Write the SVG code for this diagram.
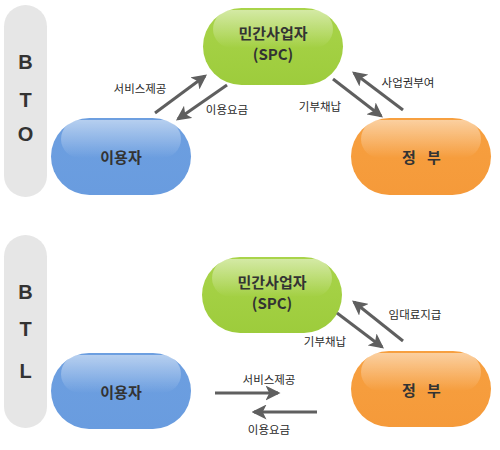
<svg xmlns="http://www.w3.org/2000/svg" width="500" height="450" viewBox="0 0 500 450">
<style>
.bar{fill:#e6e6e6}
.side{font-family:"Liberation Sans","Noto Sans CJK KR",sans-serif;font-weight:bold;font-size:20px;fill:#333;text-anchor:middle}
.nl{font-family:"Noto Sans CJK KR","Liberation Sans",sans-serif;font-weight:bold;font-size:15px;fill:#333;text-anchor:middle}
.el{font-family:"Noto Sans CJK KR","Liberation Sans",sans-serif;font-size:11.5px;fill:#2a2a2a;text-anchor:middle}
.ar{stroke:#5f5f5f;stroke-width:3;fill:none;marker-end:url(#ah)}
.hl{fill:url(#hlg)}
</style>
<defs>
<marker id="ah" viewBox="0 0 12 12" refX="10" refY="6" markerWidth="5" markerHeight="5" orient="auto" markerUnits="strokeWidth">
<path d="M0,0 L12,6 L0,12 L3,6 z" fill="#5f5f5f"/>
</marker>
<linearGradient id="hlg" x1="0" y1="0" x2="0" y2="1">
<stop offset="0" stop-color="#fff" stop-opacity="0.5"/>
<stop offset="1" stop-color="#fff" stop-opacity="0"/>
</linearGradient>
<linearGradient id="gg" x1="0" y1="0" x2="0" y2="1"><stop offset="0" stop-color="#a9d44a"/><stop offset="1" stop-color="#9dcc3c"/></linearGradient>
<linearGradient id="bg" x1="0" y1="0" x2="0" y2="1"><stop offset="0" stop-color="#6d9fe0"/><stop offset="1" stop-color="#699cdf"/></linearGradient>
<linearGradient id="og" x1="0" y1="0" x2="0" y2="1"><stop offset="0" stop-color="#f7a040"/><stop offset="1" stop-color="#f59a3a"/></linearGradient>
</defs>

<g id="bto-bar">
<rect class="bar" x="4" y="5" width="43" height="192" rx="21.5"/>
<text class="side" x="25.5" y="69">B</text>
<text class="side" x="25.5" y="107">T</text>
<text class="side" x="25.5" y="141">O</text>
</g>
<g id="btl-bar">
<rect class="bar" x="4" y="235" width="43" height="193" rx="21.5"/>
<text class="side" x="25.5" y="299">B</text>
<text class="side" x="25.5" y="336">T</text>
<text class="side" x="25.5" y="378">L</text>
</g>

<g id="bto-spc">
<rect x="203" y="8" width="140" height="77" rx="38.5" fill="url(#gg)"/>
<rect class="hl" x="213" y="10" width="120" height="38" rx="19"/>
<text class="nl" x="273" y="39">민간사업자</text>
<text class="nl" x="273" y="60">(SPC)</text>
</g>
<g id="bto-user">
<rect x="51" y="118" width="140" height="77" rx="38.5" fill="url(#bg)"/>
<rect class="hl" x="61" y="120" width="120" height="38" rx="19"/>
<text class="nl" x="121" y="163">이용자</text>
</g>
<g id="bto-gov">
<rect x="351" y="118" width="140" height="77" rx="38.5" fill="url(#og)"/>
<rect class="hl" x="361" y="120" width="120" height="38" rx="19"/>
<text class="nl" x="409" y="163">정</text>
<text class="nl" x="434" y="163">부</text>
</g>

<g id="btl-spc">
<rect x="202" y="257" width="140" height="76" rx="38" fill="url(#gg)"/>
<rect class="hl" x="212" y="259" width="120" height="38" rx="19"/>
<text class="nl" x="272" y="288">민간사업자</text>
<text class="nl" x="272" y="309">(SPC)</text>
</g>
<g id="btl-user">
<rect x="51" y="353" width="140" height="76" rx="38" fill="url(#bg)"/>
<rect class="hl" x="61" y="355" width="120" height="38" rx="19"/>
<text class="nl" x="121" y="398">이용자</text>
</g>
<g id="btl-gov">
<rect x="351" y="351" width="140" height="76" rx="38" fill="url(#og)"/>
<rect class="hl" x="361" y="353" width="120" height="38" rx="19"/>
<text class="nl" x="409" y="396">정</text>
<text class="nl" x="434" y="396">부</text>
</g>

<g id="connectors">
<line class="ar" x1="155" y1="113" x2="205" y2="76"/>
<line class="ar" x1="227" y1="85" x2="178" y2="119"/>
<line class="ar" x1="333" y1="79" x2="381" y2="116"/>
<line class="ar" x1="403" y1="110" x2="354" y2="73"/>
<line class="ar" x1="337" y1="313" x2="382" y2="347"/>
<line class="ar" x1="403" y1="341" x2="354" y2="302"/>
<line class="ar" x1="215" y1="393" x2="278" y2="393"/>
<line class="ar" x1="317" y1="412" x2="254" y2="412"/>
<text class="el" x="140" y="93">서비스제공</text>
<text class="el" x="227" y="114">이용요금</text>
<text class="el" x="408" y="87">사업권부여</text>
<text class="el" x="320" y="111">기부채납</text>
<text class="el" x="415" y="319">임대료지급</text>
<text class="el" x="325" y="346">기부채납</text>
<text class="el" x="269" y="384">서비스제공</text>
<text class="el" x="269" y="434">이용요금</text>
</g>
</svg>
